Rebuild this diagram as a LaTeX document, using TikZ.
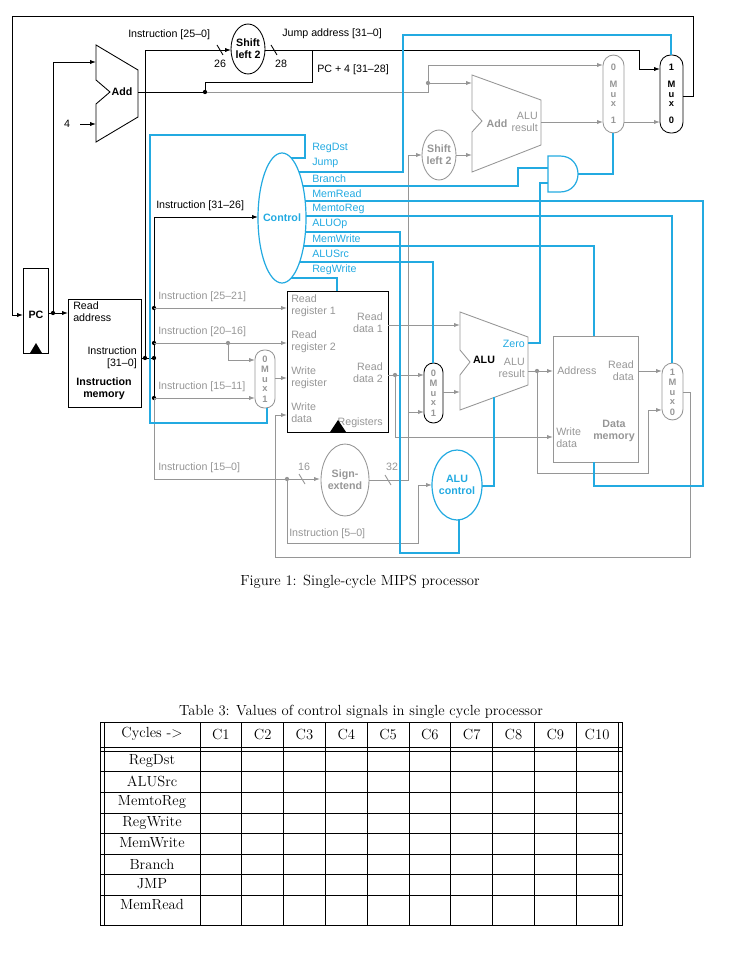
\documentclass[tikz,border=0pt]{standalone}
\usepackage{fontspec}
\newfontfamily\arialf{Liberation Sans}
\usetikzlibrary{arrows.meta}
\definecolor{cb}{RGB}{35,170,225}
\definecolor{cg}{RGB}{150,150,150}
\begin{document}
\begin{tikzpicture}[x=0.75pt,y=-0.75pt,
  lw/.style={line width=0.65pt},
  k/.style={lw,draw=black},
  g/.style={lw,draw=cg},
  b/.style={line width=0.9pt,draw=cb},
  bt/.style={line width=2.2pt,draw=cb},
  arr/.style={-{Latex[length=4.5pt,width=3.2pt]}},
  lbl/.style={font=\arialf\fontsize{8}{9}\selectfont,inner sep=0pt},
  glbl/.style={lbl,text=cg},
  blbl/.style={lbl,text=cb},
  mx/.style={font=\arialf\bfseries\fontsize{7}{7}\selectfont,inner sep=0pt},
  tt/.style={font=\fontsize{11}{12}\selectfont,inner sep=0pt},
  dot/.style={circle,fill,inner sep=0pt,minimum size=3.2pt}]
\useasboundingbox (0,0) rectangle (735,959);
% ---------- outer loop ----------
\draw[k,arr] (683,96) -- (693,96) -- (693,16) -- (12,16) -- (12,315) -- (23,315);
% PC
\draw[k] (23,268) rectangle (48,353);
\node[lbl,font=\arialf\bfseries\fontsize{8}{9}\selectfont] (pc) at (36,315) {PC};
\fill (30,353) -- (36,343) -- (42,353) -- cycle;
\draw[k,arr] (48,313) -- (68,313);
\node[dot] (d1) at (53,313) {};
\draw[k,arr] (d1) -- (53,62) -- (96,62);
% Add 1
\draw[k] (96,45) -- (138,70) -- (138,117) -- (96,142) -- (96,104) -- (110,92) -- (96,80) -- cycle;
\node[lbl,font=\arialf\bfseries\fontsize{8}{9}\selectfont] (add1) at (122,92) {Add};
\node[lbl] (four) at (67,124) {4};
\draw[k,arr] (80,124) -- (96,124);
\draw[k] (138,92) -- (205,92);
\node[dot] (d2) at (205,92) {};
\draw[g] (d2) -- (428,92) -- (428,83);
\node[dot,fill=cg] (d3) at (428,83) {};
\draw[g,arr] (d3) -- (472,83);
\draw[g,arr] (d3) -- (428,65) -- (603,65);
\draw[k] (d2) -- (205,82) -- (312,82) -- (312,50);
\node[lbl,anchor=west] (pc4) at (317,70) {PC + 4 [31–28]};
% Shift left 2 (top)
\draw[k] (248,49) ellipse [x radius=17,y radius=25];
\node[lbl,font=\arialf\bfseries\fontsize{8}{9}\selectfont,align=center] (sl1) at (248,49) {Shift\\left 2};
\draw[k,arr] (145,358) -- (145,50) -- (231,50);
\draw[k] (217,45) -- (223,55);
\node[lbl] (n26) at (220,64) {26};
\node[lbl,anchor=west] (i250) at (128,35) {Instruction [25–0]};
\draw[k,arr] (265,50) -- (639,50) -- (639,69) -- (660,69);
\draw[k] (271,45) -- (277,55);
\node[lbl] (n28) at (281,64) {28};
\node[lbl,anchor=west] (ja) at (282,34) {Jump address [31–0]};
% Instruction memory
\draw[k] (68,299) rectangle (141,407);
\node[lbl,anchor=north west,align=left] (ra) at (73,302) {Read\\address};
\node[lbl,anchor=east,align=right] (i310) at (137,358) {Instruction\\{}[31–0]};
\node[lbl,font=\arialf\bfseries\fontsize{8}{9}\selectfont,align=center] (im) at (104,389) {Instruction\\memory};
\draw[k] (141,358) -- (154,358);
\node[dot] at (145,358) {};
\node[dot] at (154,358) {};
\draw[k,arr] (154,398) -- (154,217) -- (258,217);
\node[lbl,anchor=west] (i3126) at (156,206) {Instruction [31–26]};
\node[dot] at (154,308) {};
\node[dot] at (154,343) {};
\node[dot] at (154,398) {};
\draw[g,arr] (154,308) -- (287,308);
\node[glbl,anchor=west] at (158,297) {Instruction [25–21]};
\draw[g,arr] (154,343) -- (287,343);
\node[glbl,anchor=west] at (158,332) {Instruction [20–16]};
\node[dot,fill=cg] (d4) at (228,343) {};
\draw[g,arr] (d4) -- (228,360) -- (255,360);
\draw[g,arr] (154,398) -- (255,398);
\node[glbl,anchor=west] at (158,387) {Instruction [15–11]};
\draw[g,arr] (154,398) -- (154,479) -- (320,479);
\node[glbl,anchor=west] at (158,468) {Instruction [15–0]};
\draw[g] (299,474) -- (305,484);
\node[glbl] at (304,467) {16};
\node[dot,fill=cg] (d5) at (287,479) {};
\draw[g,arr] (d5) -- (287,543) -- (418,543) -- (418,485) -- (432,485);
\node[glbl,anchor=west] at (289,534) {Instruction [5–0]};
% Registers
\draw[k] (287,291) rectangle (388,432);
\node[glbl,anchor=north west,align=left] at (291,295) {Read\\register 1};
\node[glbl,anchor=north west,align=left] at (291,331) {Read\\register 2};
\node[glbl,anchor=north west,align=left] at (291,367) {Write\\register};
\node[glbl,anchor=north west,align=left] at (291,403) {Write\\data};
\node[glbl,anchor=north east,align=right] at (383,313) {Read\\data 1};
\node[glbl,anchor=north east,align=right] at (383,363) {Read\\data 2};
\node[glbl,anchor=east] at (383,423) {Registers};
\fill (330,432) -- (338,420) -- (346,432) -- cycle;
% RegDst mux
\draw[g,rounded corners=7pt] (255,350) rectangle (275,408);
\node[mx,text=cg,align=center] at (265,379) {0\\[1pt]M\\u\\x\\[1pt]1};
\draw[g,arr] (275,378) -- (287,378);
% write-back loop
\draw[g,arr] (683,392) -- (690,392) -- (690,557) -- (275,557) -- (275,415) -- (287,415);
% read data
\draw[g,arr] (388,325) -- (460,325);
\draw[g] (388,375) -- (395,375);
\node[dot,fill=cg] (d6) at (395,375) {};
\draw[g,arr] (d6) -- (424,375);
\draw[g,arr] (d6) -- (395,437) -- (553,437);
% sign extend
\draw[g] (345,480) ellipse [x radius=24,y radius=36];
\node[glbl,font=\arialf\bfseries\fontsize{8}{9}\selectfont,align=center] (se) at (345,480) {Sign-\\extend};
\draw[g,arr] (369,480) -- (408,480) -- (408,155) -- (422,155);
\draw[g] (385,475) -- (391,485);
\node[glbl] at (392,467) {32};
\draw[g,arr] (408,412) -- (424,412);
% ALUSrc mux
\draw[k,rounded corners=7pt] (424,363) rectangle (443,423);
\node[mx,text=cg,align=center] at (433.5,393) {0\\[1pt]M\\u\\x\\[1pt]1};
\draw[g,arr] (443,392) -- (460,392);
% shift left 2 (branch)
\draw[g] (439,155) ellipse [x radius=17,y radius=25];
\node[glbl,font=\arialf\bfseries\fontsize{8}{9}\selectfont,align=center] (sl2) at (439,155) {Shift\\left 2};
\draw[g,arr] (456,155) -- (472,155);
% Add 2
\draw[g] (472,75) -- (541,100) -- (541,145) -- (472,172) -- (472,132) -- (482,121) -- (472,110) -- cycle;
\node[glbl,font=\arialf\bfseries\fontsize{8}{9}\selectfont] (add2) at (497,124) {Add};
\node[glbl,align=right,anchor=east] at (538,122) {ALU\\result};
\draw[g,arr] (541,122) -- (603,122);
% mux 0
\draw[g,rounded corners=8pt] (603,55) rectangle (624,133);
\node[mx,text=cg,align=center] at (613.5,94) {0\\[6pt]M\\u\\x\\[6pt]1};
\draw[g,arr] (624,122) -- (660,122);
% mux 1
\draw[k,rounded corners=8pt] (660,55) rectangle (683,133);
\node[mx,align=center] at (671.5,94) {1\\[6pt]M\\u\\x\\[6pt]0};
% AND gate
\draw[b] (548,156) -- (560,156) .. controls (584,156) and (584,192) .. (560,192) -- (548,192) -- cycle;
\draw[b] (578,174) -- (613,174) -- (613,133);
% ALU
\draw[g] (460,312) -- (528,337) -- (528,385) -- (460,410) -- (460,375) -- (470,362) -- (460,350) -- cycle;
\node[lbl,font=\arialf\bfseries\fontsize{8}{9}\selectfont] (alu) at (484,360) {ALU};
\node[glbl,align=right,anchor=east] at (525,368) {ALU\\result};
\node[blbl,anchor=east] at (525,344) {Zero};
\draw[b] (528,343) -- (540,343) -- (540,183) -- (548,183);
\draw[g] (528,371) -- (537,371);
\node[dot,fill=cg] (d7) at (537,371) {};
\draw[g,arr] (d7) -- (553,371);
\draw[g,arr] (d7) -- (537,473) -- (648,473) -- (648,410) -- (662,410);
% data memory
\draw[g] (553,336) rectangle (638,462);
\node[glbl,anchor=west] at (557,371) {Address};
\node[glbl,anchor=east,align=right] at (634,371) {Read\\data};
\node[glbl,anchor=west,align=left] at (556,438) {Write\\data};
\node[glbl,font=\arialf\bfseries\fontsize{8}{9}\selectfont,align=center] at (614,431) {Data\\memory};
\draw[g,arr] (638,371) -- (662,371);
% MemtoReg mux
\draw[g,rounded corners=8pt] (662,363) rectangle (683,420);
\node[mx,text=cg,align=center] at (672.5,392) {1\\[1pt]M\\u\\x\\[1pt]0};
% ALU control
\draw[b] (457,485) ellipse [x radius=25,y radius=35];
\node[blbl,font=\arialf\bfseries\fontsize{8}{9}\selectfont,align=center] (aluc) at (457,485) {ALU\\control};
\draw[bt] (482,486) -- (494,486) -- (494,397);
% Control
\draw[b] (282,218) ellipse [x radius=24,y radius=65];
\node[blbl,font=\arialf\bfseries\fontsize{8}{9}\selectfont] (ctrl) at (282,218) {Control};
\foreach \t/\y in {RegDst/148,Jump/163,Branch/179,MemRead/194,MemtoReg/209,ALUOp/224,MemWrite/239,ALUSrc/254,RegWrite/270}
  \node[blbl,anchor=west] at (312,\y) {\t};
\draw[b] (291,158) -- (305,158) -- (305,135) -- (150,135) -- (150,423) -- (267,423) -- (267,408);
\draw[b] (299,172) -- (403,172) -- (403,35) -- (671,35) -- (671,55);
\draw[b] (303,186) -- (518,186) -- (518,168) -- (548,168);
\draw[b] (305,201) -- (703,201) -- (703,486) -- (594,486) -- (594,462);
\draw[b] (306,216) -- (672,216) -- (672,363);
\draw[bt] (305,232) -- (400,232) -- (400,553) -- (459,553) -- (459,520);
\draw[b] (304,246) -- (594,246) -- (594,336);
\draw[b] (300,262) -- (433,262) -- (433,363);
\draw[b] (291,278) -- (337,278) -- (337,291);
% caption
\node[tt] (cap) at (360,582) {Figure 1: Single-cycle MIPS processor};
% ---------- table ----------
\node[tt] (tcap) at (361,712) {Table 3: Values of control signals in single cycle processor};
\begin{scope}[line width=0.5pt]
\draw (100,722) rectangle (622,925);
\draw (104,722) -- (104,925);
\draw (618,722) -- (618,925);
\foreach \i in {0,...,9} \draw ({200+41.8*\i},722) -- ({200+41.8*\i},925);
\foreach \y in {747,751,771.5,792,813,833,854,874,895} \draw (100,\y) -- (622,\y);
\end{scope}
\node[tt] at (152,734) {Cycles ->};
\foreach \i in {1,...,10} \node[tt] at ({200+41.8*\i-20.9},734) {C\i};
\foreach \t/\y in {RegDst/761,ALUSrc/781.5,MemtoReg/802,RegWrite/823,MemWrite/843,Branch/864,JMP/884,MemRead/905}
  \node[tt] at (152,\y) {\t};
\end{tikzpicture}
\end{document}
